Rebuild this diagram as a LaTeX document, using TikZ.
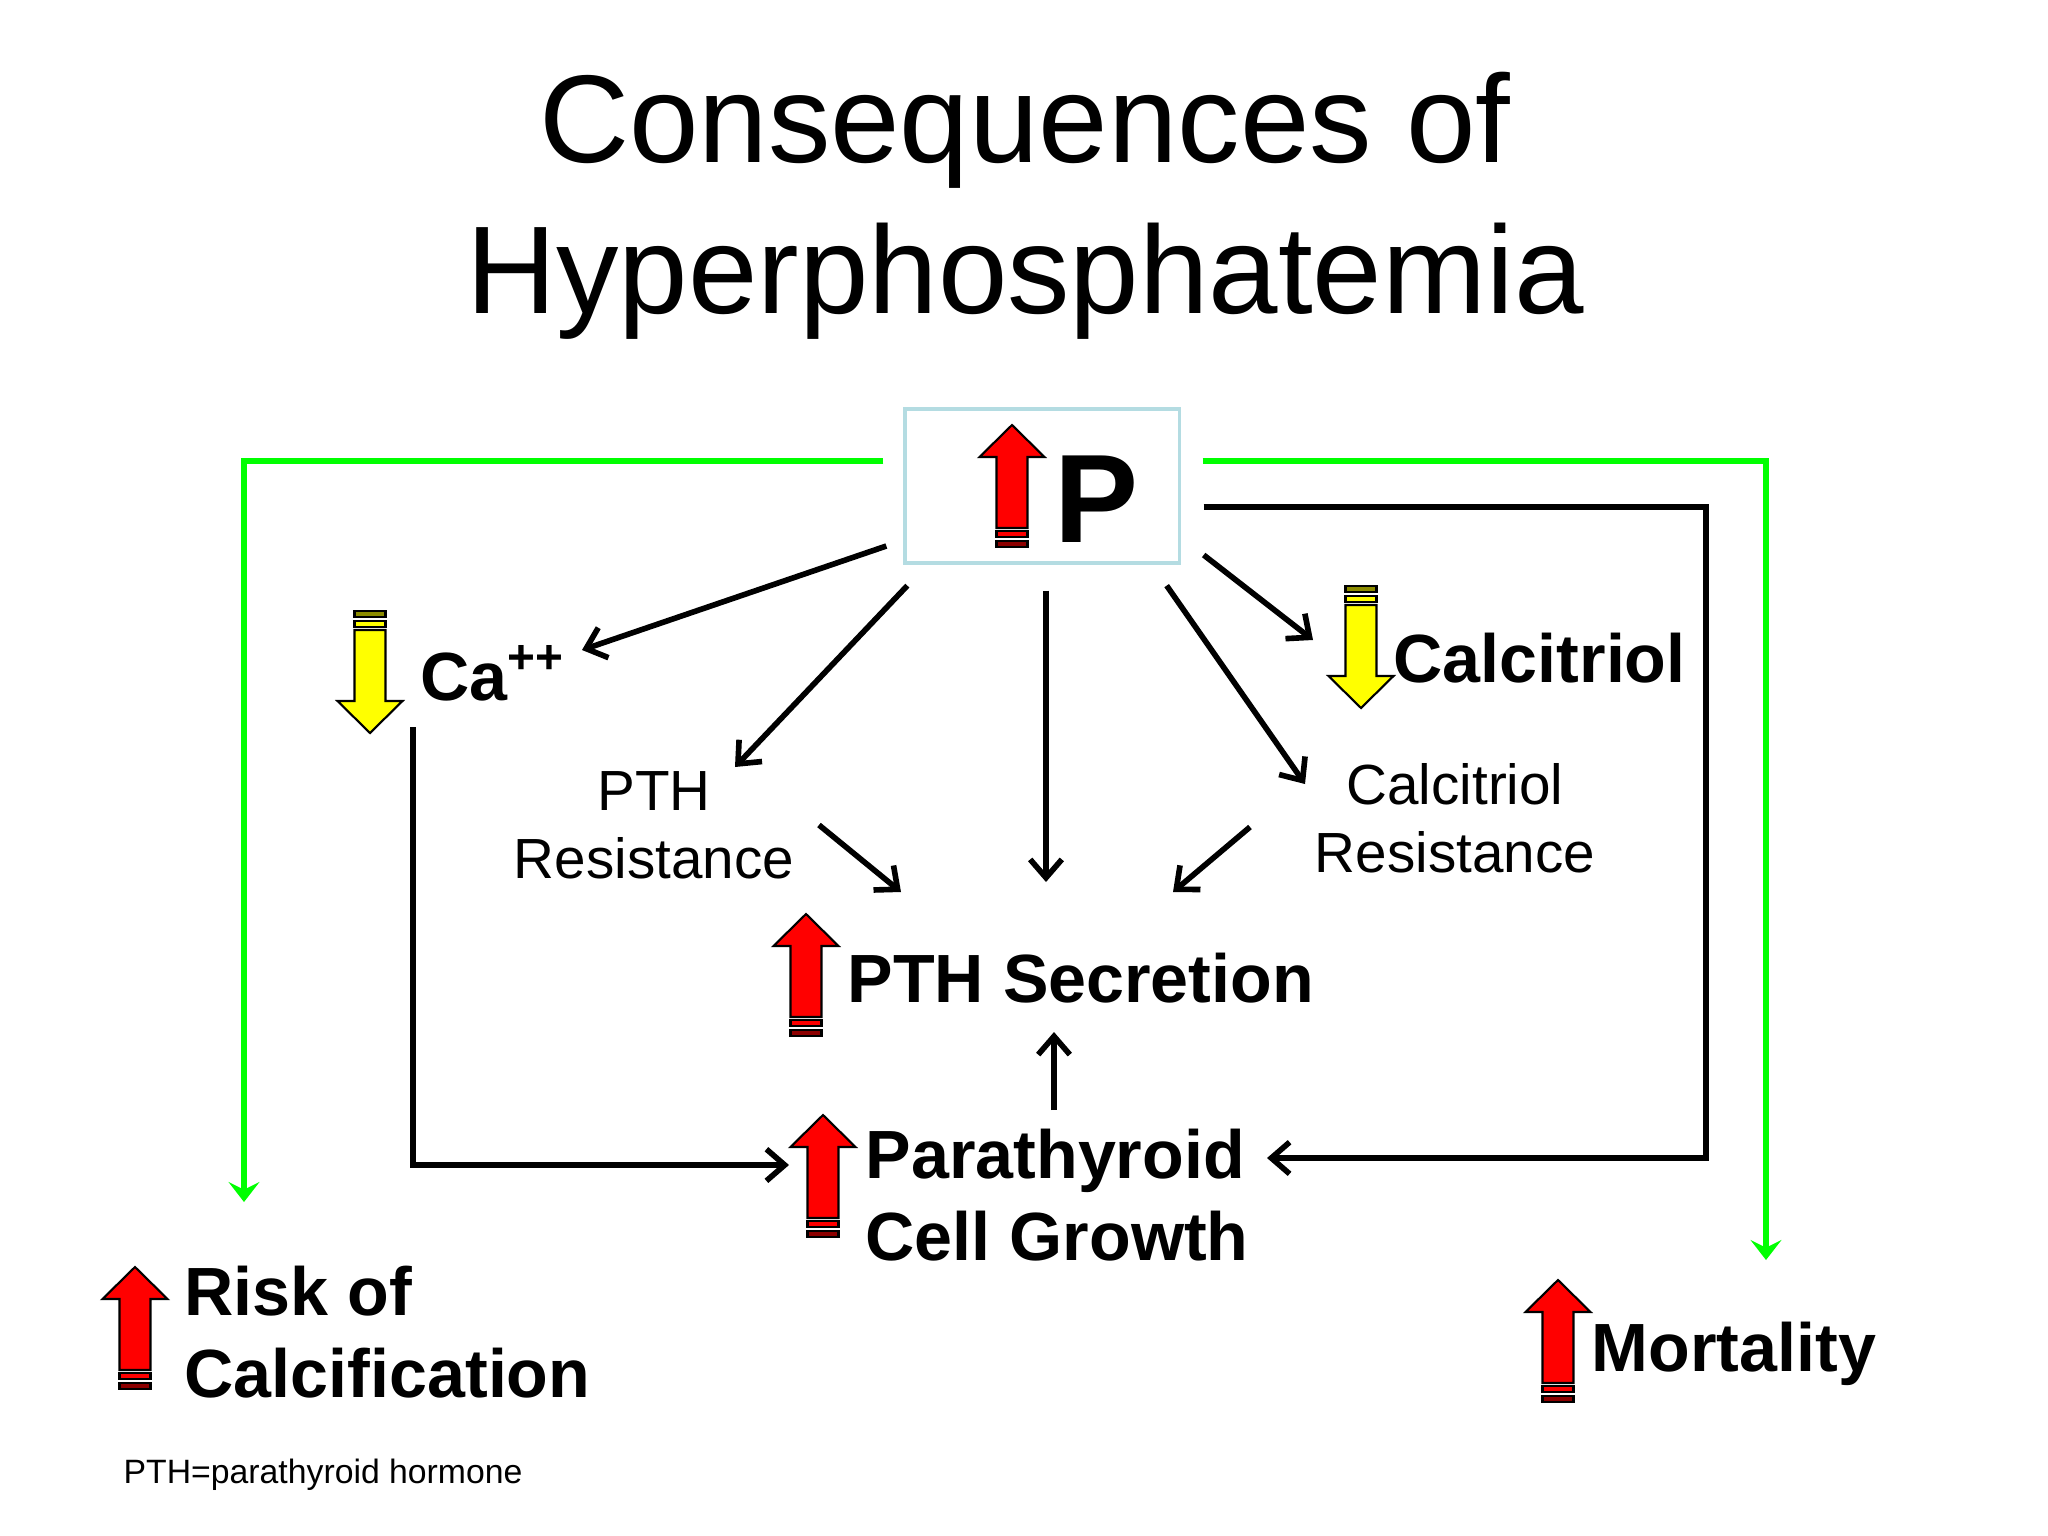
\documentclass[tikz,border=0pt]{standalone}
\usepackage{fontspec}
\setmainfont{Liberation Sans}
\usetikzlibrary{arrows.meta,calc,positioning}
\definecolor{boxblue}{HTML}{B4DCE2}
\definecolor{arrowred}{HTML}{FF0000}
\definecolor{arrowyellow}{HTML}{FFFF00}
\definecolor{linkgreen}{HTML}{00FF00}

\tikzset{
  pics/fatarr/.style={code={
    \draw[fill=#1, line width=0.6pt] (0,0) -- (32.5,32) -- (15.5,32) -- (15.5,103) -- (-15.5,103) -- (-15.5,32) -- (-32.5,32) -- cycle;
    \draw[fill=#1, line width=0.6pt] (-15.5,106) rectangle (15.5,112);
    \draw[fill=#1!55!black, line width=0.6pt] (-15.5,116) rectangle (15.5,122);
  }},
  link/.style={line width=1.6pt, -{Straight Barb[length=5.2pt,width=9pt]}},
  glink/.style={linkgreen, line width=1.6pt, -{Stealth[length=5.7pt,width=8.8pt,inset=2.2pt]}},
  bigtxt/.style={font=\bfseries\fontsize{19.4}{23.3}\selectfont, inner sep=0pt, align=left},
  midtxt/.style={font=\fontsize{16.1}{19.3}\selectfont, inner sep=0pt, align=center},
}

\begin{document}
\begin{tikzpicture}[x=0.01cm, y=-0.01cm]
  \fill[white] (0,0) rectangle (2048,1536);
  \useasboundingbox (0,0) rectangle (2048,1536);

  % title
  \node[anchor=base, align=center, inner sep=0pt, font=\fontsize{35.5}{42.7}\selectfont] (title) at (1025,313)
    {Consequences of\\Hyperphosphatemia};

  % phosphate box
  \node[draw=boxblue, line width=0.9pt, minimum width=2.74cm, minimum height=1.54cm, inner sep=0pt] (pbox) at (1042,486) {};
  \pic at (1012,425) {fatarr=arrowred};
  \node[anchor=base west, inner sep=0pt, font=\bfseries\fontsize{35.8}{40}\selectfont] (plet) at (1054,542) {P};

  % labels
  \pic[rotate=180] at (370,733) {fatarr=arrowyellow};
  \node[bigtxt, anchor=base west] (ca) at (420,700) {Ca\textsuperscript{++}};
  \pic[rotate=180] at (1361,708) {fatarr=arrowyellow};
  \node[bigtxt, anchor=base west] (calc) at (1393,682) {Calcitriol};
  \node[midtxt, anchor=base] (pthres) at (654,878) {PTH\\Resistance};
  \node[midtxt, anchor=base] (calres) at (1455,872) {Calcitriol\\Resistance};
  \pic at (806,914) {fatarr=arrowred};
  \node[bigtxt, anchor=base west] (pthsec) at (847,1002) {PTH Secretion};
  \pic at (823,1115) {fatarr=arrowred};
  \node[bigtxt, anchor=base west] (growth) at (865,1260) {Parathyroid\\Cell Growth};
  \pic at (135,1267) {fatarr=arrowred};
  \node[bigtxt, anchor=base west] (risk) at (184,1397) {Risk of\\Calcification};
  \pic at (1558,1280) {fatarr=arrowred};
  \node[bigtxt, anchor=base west] (mort) at (1591,1371) {Mortality};
  \node[anchor=base west, inner sep=0pt, font=\fontsize{9.6}{11}\selectfont] (note) at (123,1483) {PTH=parathyroid hormone};

  % connector ends
  \coordinate (ca-in) at (582,650);
  \coordinate (pthres-in) at (735,767);
  \coordinate (pthsec-top) at (1046,882);
  \coordinate (calres-in) at (1305,784);
  \coordinate (calc-in) at (1313,640);
  \coordinate (pthres-out) at (819,825);
  \coordinate (calres-out) at (1250,827);
  \coordinate (pthsec-left) at (901,892);
  \coordinate (pthsec-right) at (1173,892);
  \coordinate (growth-top) at (1054,1110);
  \coordinate (pthsec-bot) at (1054,1032);
  \coordinate (ca-out) at (413,727);
  \coordinate (growth-left) at (789,1165);
  \coordinate (growth-right) at (1267,1158);
  \coordinate (right-corner) at (1706,1158);
  \coordinate (risk-top) at (244,1202);
  \coordinate (mort-top) at (1766,1260);

  % green links
  \draw[glink] ($(pbox.west)+(-20,-25)$) -| (risk-top);
  \draw[glink] ($(pbox.east)+(22,-25)$) -| (mort-top);

  % black links from P
  \draw[link] ($(pbox.west)+(-17,60)$) -- (ca-in);
  \draw[link] ($(pbox.south west)+(4,21)$) -- (pthres-in);
  \draw[link] ($(pbox.south)+(4,26)$) -- (pthsec-top);
  \draw[link] ($(pbox.south east)+(-14,21)$) -- (calres-in);
  \draw[link] ($(pbox.east)+(23,69)$) -- (calc-in);
  \draw[link] ($(pbox.east)+(23,21)$) -| (right-corner) -- (growth-right);

  % into PTH secretion
  \draw[link] (pthres-out) -- (pthsec-left);
  \draw[link] (calres-out) -- (pthsec-right);
  \draw[link] (growth-top) -- (pthsec-bot);
  \draw[link] (ca-out) |- (growth-left);
\end{tikzpicture}
\end{document}
